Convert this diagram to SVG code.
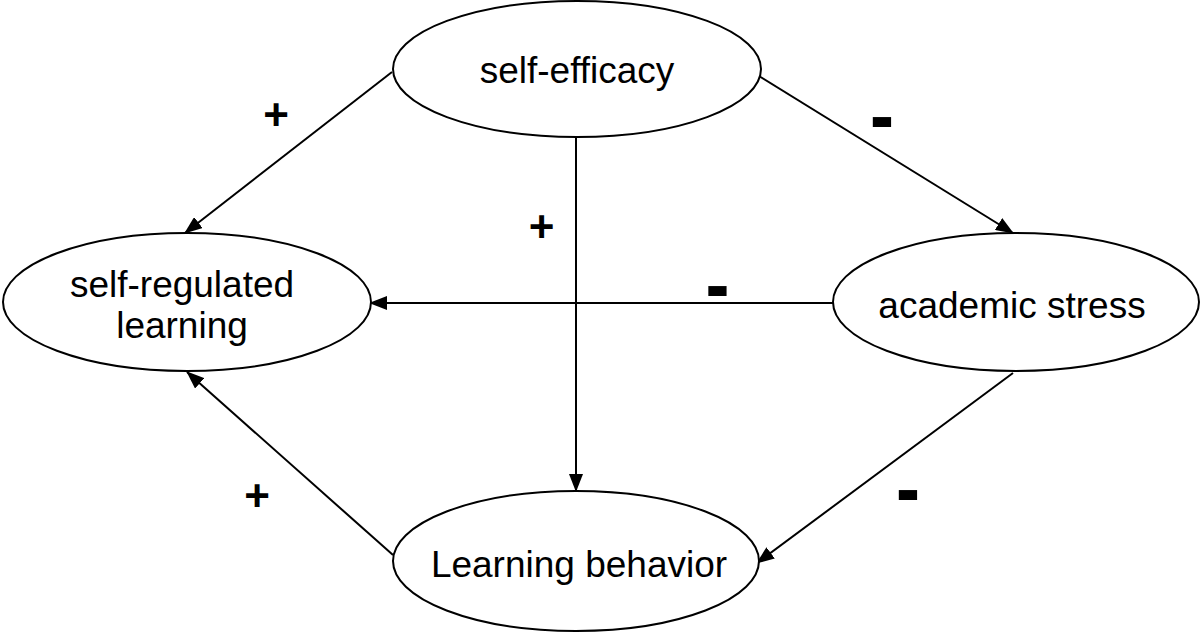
<svg xmlns="http://www.w3.org/2000/svg" width="1200" height="632" viewBox="0 0 1200 632">
<style>
.node{fill:#fff;stroke:#000;stroke-width:2}
.t{font-family:"Liberation Sans",Arial,sans-serif;font-size:37px;fill:#000;text-anchor:middle}
.p{font-family:"Liberation Sans",Arial,sans-serif;font-size:44px;font-weight:bold;fill:#000;text-anchor:middle}
.m{font-family:"Liberation Sans",Arial,sans-serif;font-size:60px;font-weight:bold;fill:#000;text-anchor:middle}
.e{stroke:#000;stroke-width:2;fill:none;marker-end:url(#ah)}
</style>
<defs>
<marker id="ah" markerWidth="18" markerHeight="14" refX="17" refY="7" orient="auto" markerUnits="userSpaceOnUse">
<path d="M0,0 L18,7 L0,14 Z" fill="#000"/>
</marker>
</defs>
<rect width="1200" height="632" fill="#fff"/>
<g id="connectors">
<line class="e" x1="392" y1="72" x2="185" y2="233"/>
<line class="e" x1="759" y1="76" x2="1013" y2="233"/>
<line class="e" x1="576" y1="137" x2="576" y2="491"/>
<line class="e" x1="833" y1="303" x2="370" y2="303"/>
<line class="e" x1="1013" y1="373" x2="757" y2="563"/>
<line class="e" x1="393" y1="555" x2="187" y2="372"/>
</g>
<g id="self-efficacy">
<ellipse class="node" cx="577" cy="69" rx="184" ry="68"/>
<text class="t" x="577" y="83">self-efficacy</text>
</g>
<g id="self-regulated-learning">
<ellipse class="node" cx="187" cy="302" rx="184" ry="69"/>
<text class="t" x="182" y="297">self-regulated</text>
<text class="t" x="182" y="338">learning</text>
</g>
<g id="academic-stress">
<ellipse class="node" cx="1016" cy="302" rx="183" ry="69"/>
<text class="t" x="1012" y="318">academic stress</text>
</g>
<g id="learning-behavior">
<ellipse class="node" cx="576" cy="561" rx="183" ry="70"/>
<text class="t" x="579" y="577">Learning behavior</text>
</g>
<g id="labels">
<text class="p" x="276" y="130">+</text>
<text class="p" x="541.5" y="241.5">+</text>
<text class="p" x="257" y="511">+</text>
<text class="m" transform="translate(882,118.5) scale(1.2,1.4)" x="0" y="18">-</text>
<text class="m" transform="translate(717.5,288) scale(1.2,1.4)" x="0" y="18">-</text>
<text class="m" transform="translate(908,492) scale(1.2,1.4)" x="0" y="18">-</text>
</g>
</svg>
